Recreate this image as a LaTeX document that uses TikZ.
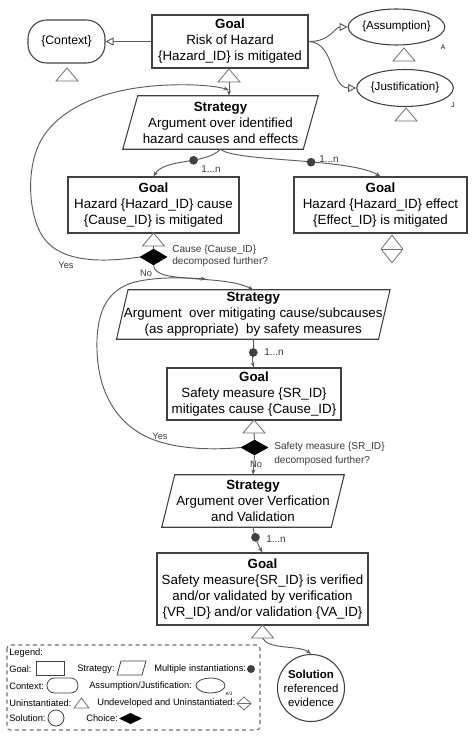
\documentclass[tikz,border=0pt]{standalone}
\usepackage{fontspec}
\setmainfont{Liberation Sans}
\usetikzlibrary{arrows.meta,shapes.geometric}
\definecolor{linec}{HTML}{5A5A5A}
\definecolor{boxc}{HTML}{404040}
\definecolor{tric}{HTML}{707070}
\definecolor{labc}{HTML}{3A3A3A}
\newcommand\gsntri[3]{%
  \draw[tri] (#2-11,#3+13) -- (#2,#3) -- (#2+11,#3+13) -- cycle;
  \coordinate (#1) at (#2,#3+13);}
\newcommand\gsnpar[2]{%
  \draw[draw=boxc, line width=0.8pt] ([xshift=#2]#1.north west) -- ([xshift=#2]#1.north east)
     -- ([xshift=-#2]#1.south east) -- ([xshift=-#2]#1.south west) -- cycle;}
\begin{document}
\begin{tikzpicture}[x=0.75pt,y=-0.75pt,
  goalbox/.style={draw=boxc, line width=0.8pt, rectangle, align=center, inner sep=0pt, font=\fontsize{10}{12}\selectfont},
  stratbox/.style={rectangle, align=center, inner sep=0pt, font=\fontsize{10}{12}\selectfont},
  ctxbox/.style={draw=boxc, line width=0.8pt, rectangle, rounded corners=14pt, align=center, inner sep=0pt, font=\fontsize{9.2}{11}\selectfont},
  ajell/.style={draw=boxc, line width=0.8pt, ellipse, inner sep=0pt, font=\fontsize{8.7}{10}\selectfont},
  conn/.style={draw=linec, line width=0.7pt, -{Stealth[length=4pt,width=3pt]}},
  ctxconn/.style={draw=linec, line width=0.7pt, -{Triangle[open,length=6pt,width=6pt]}},
  multdot/.style={circle, fill=black!75, inner sep=0pt, minimum size=6.5pt},
  multlab/.style={font=\fontsize{7.5}{9}\selectfont, text=labc, anchor=west, inner sep=0pt},
  choice/.style={diamond, fill=black, draw=black, inner sep=0pt},
  chlab/.style={text=labc, align=left, inner sep=0pt, anchor=west},
  yn/.style={font=\fontsize{7}{8}\selectfont, text=labc, inner sep=0pt},
  tri/.style={draw=tric, line width=0.6pt, fill=white},
  lg/.style={font=\fontsize{7}{8}\selectfont, anchor=west, inner sep=0pt},
  lgshape/.style={draw=boxc, line width=0.6pt}
]
\useasboundingbox (0,0) rectangle (474,737);

% top goal and context elements
\node[goalbox, minimum width=117pt, minimum height=39.75pt] (g1) at (230,41.5)
  {\textbf{Goal}\\Risk of Hazard\\\{Hazard\_ID\} is mitigated};
\node[ctxbox, minimum width=57.75pt, minimum height=32.25pt] (ctx) at (66.5,41.5) {\{Context\}};
\node[ajell, minimum width=62.25pt, minimum height=27pt] (asm) at (396.5,27) {\{Assumption\}};
\node[ajell, minimum width=70.5pt, minimum height=27.75pt] (jus) at (405,88) {\{Justification\}};
\node[font=\fontsize{5}{6}\selectfont, inner sep=0pt] (alab) at (443,47) {A};
\node[font=\fontsize{5}{6}\selectfont, inner sep=0pt] (jlab) at (453,105) {J};

\draw[ctxconn] (g1.west) -- (ctx.east);
\draw[ctxconn] (g1.east) .. controls (330,42) and (335,27) .. (asm.west);
\draw[ctxconn] (g1.east) .. controls (335,42) and (330,88) .. (jus.west);

\gsntri{tctx}{67}{68}
\gsntri{t1}{229}{69}
\gsntri{tasm}{404}{48}
\gsntri{tjus}{406}{108}

% strategy 1
\node[stratbox, minimum width=135pt, minimum height=39.75pt] (s1) at (220.5,122.5)
  {\textbf{Strategy}\\Argument over identified\\hazard causes and effects};
\gsnpar{s1}{5.625pt}
\draw[conn] (t1) -- (t1 |- s1.north);
\coordinate (y1e) at (229,90);

% goals 2 and 3
\node[goalbox, minimum width=128.25pt, minimum height=42pt] (g2) at (153.5,205)
  {\textbf{Goal}\\Hazard \{Hazard\_ID\} cause\\\{Cause\_ID\} is mitigated};
\node[goalbox, minimum width=129.75pt, minimum height=42pt] (g3) at (380.5,205)
  {\textbf{Goal}\\Hazard \{Hazard\_ID\} effect\\\{Effect\_ID\} is mitigated};
\draw[conn] (s1.south) .. controls (205,165) and (165,158) .. (g2.north) node[multdot, pos=0.4] (m1) {};
\node[multlab] (m1l) at (201,169) {1...n};
\draw[conn] (s1.south) .. controls (235,162) and (350,158) .. (g3.north) node[multdot, pos=0.58] (m2) {};
\node[multlab] (m2l) at (319,159) {1...n};

\node[diamond, draw=tric, line width=0.6pt, minimum width=16.5pt, minimum height=21pt, inner sep=0pt] (u3) at (392,249) {};
\draw[draw=tric, line width=0.6pt] (u3.west) -- (u3.east);

% choice 1
\gsntri{t2}{153.5}{233}
\node[choice, minimum width=20.25pt, minimum height=12pt] (c1) at (153.5,257) {};
\draw[draw=linec, line width=0.7pt] (t2) -- (c1.north);
\node[chlab, font=\fontsize{7.6}{9}\selectfont] (c1l) at (172,256) {Cause \{Cause\_ID\}\\decomposed further?};
\draw[conn] (c1.west) .. controls (100,263) and (60,262) .. (43,237)
  .. controls (28,215) and (25,165) .. (43,137)
  .. controls (55,118) and (80,100) .. (120,91)
  .. controls (160,82) and (210,84) .. (y1e);
\node[yn] (yes1) at (66,265) {Yes};
\node[yn] (no1) at (146,273) {No};

% strategy 2
\node[stratbox, minimum width=196.125pt, minimum height=36.75pt] (s2) at (253.25,314.5)
  {\textbf{Strategy}\\Argument\ \ over mitigating cause/subcauses\\(as appropriate)\ \ by safety measures};
\gsnpar{s2}{4.3125pt}
\draw[conn] (c1.south) .. controls (155,276) and (170,277) .. (205,279.5)
  .. controls (225,281) and (240,283) .. (s2.north);
\coordinate (y2e) at (206,279);

% goal 4
\node[goalbox, minimum width=130.5pt, minimum height=39pt] (g4) at (254,394)
  {\textbf{Goal}\\Safety measure \{SR\_ID\}\\mitigates cause \{Cause\_ID\}};
\draw[conn] (s2.south) .. controls (255,350) and (251,358) .. (g4.north) node[multdot, pos=0.45] (m3) {};
\node[multlab] (m3l) at (264,352) {1...n};

% choice 2
\gsntri{t4}{254}{420}
\node[choice, minimum width=20.25pt, minimum height=11.25pt] (c2) at (254.5,447.5) {};
\draw[draw=linec, line width=0.7pt] (t4) -- (c2.north);
\node[chlab, font=\fontsize{7.6}{10.5}\selectfont] (c2l) at (274,454) {Safety measure \{SR\_ID\}\\decomposed further?};
\draw[conn] (c2.west) .. controls (215,450) and (175,450) .. (147,437)
  .. controls (115,422) and (98,390) .. (97,350)
  .. controls (96,315) and (105,290) .. (135,282)
  .. controls (160,276) and (190,278) .. (y2e);
\node[yn] (yes2) at (160,436) {Yes};
\node[yn] (no2) at (256,464) {No};

% strategy 3
\node[stratbox, minimum width=126.75pt, minimum height=39pt] (s3) at (253,501)
  {\textbf{Strategy}\\Argument over Verfication\\and Validation};
\gsnpar{s3}{4.875pt}
\draw[conn] (c2.south) -- (s3.north);

% goal 5
\node[goalbox, minimum width=158.25pt, minimum height=54pt] (g5) at (262.5,589)
  {\textbf{Goal}\\Safety measure\{SR\_ID\} is verified\\and/or validated by verification\\\{VR\_ID\} and/or validation \{VA\_ID\}};
\draw[conn] (s3.south) .. controls (254,535) and (258,545) .. (g5.north) node[multdot, pos=0.4] (m4) {};
\node[multlab] (m4l) at (266,539) {1...n};

\gsntri{t5}{262.5}{625}
\node[circle, draw=boxc, line width=0.8pt, minimum size=50.25pt, inner sep=0pt, align=center,
      font=\fontsize{8.6}{10.5}\selectfont] (sol) at (311,688) {\textbf{Solution}\\referenced\\evidence};
\draw[conn] (t5) .. controls (268,650) and (300,645) .. (sol.north);

% legend
\draw[draw=tric, line width=0.8pt, dash pattern=on 3pt off 2.5pt, rounded corners=2.5pt] (7,645) rectangle (260,730);
\node[lg] (lgt) at (9,653) {Legend:};
\node[lg] (lg1) at (9,669) {Goal:};
\draw[lgshape] (36,661) rectangle (64,675);
\node[lg] (lg2) at (77,669) {Strategy:};
\draw[lgshape] (121,661) -- (146,661) -- (142,675) -- (117,675) -- cycle;
\node[lg] (lg3) at (154,669) {Multiple instantiations:};
\fill[black!75] (251,669) circle (3pt);
\node[lg] (lg4) at (9,686) {Context:};
\draw[lgshape, rounded corners=5.5pt] (47,678) rectangle (78,693);
\node[lg] (lg5) at (89,686) {Assumption/Justification:};
\draw[lgshape] (210.5,685.5) ellipse [x radius=10.9pt, y radius=5.6pt];
\node[font=\fontsize{3.5}{4}\selectfont, inner sep=0pt] (lgaj) at (229,694) {A/J};
\node[lg] (lg6) at (9,703) {Uninstantiated:};
\draw[tri] (74,708) -- (81.5,698) -- (89,708) -- cycle;
\node[lg] (lg7) at (97,703) {Undeveloped and Uninstantiated:};
\draw[tri] (237,703.5) -- (244,697) -- (251,703.5) -- (244,710) -- cycle;
\draw[tri] (237,703.5) -- (251,703.5);
\node[lg] (lg8) at (9,718) {Solution:};
\draw[lgshape] (56,718) circle (6pt);
\node[lg] (lg9) at (86,718) {Choice:};
\fill[black] (119,718.5) -- (130.5,713) -- (142,718.5) -- (130.5,724) -- cycle;
\end{tikzpicture}
\end{document}
